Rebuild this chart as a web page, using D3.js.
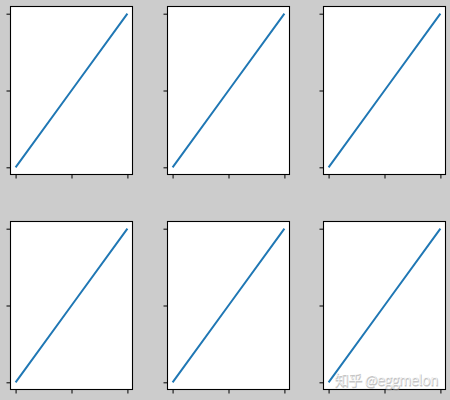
<!DOCTYPE html>
<html><head><meta charset="utf-8">
<script src="https://cdn.jsdelivr.net/npm/d3@7"></script>
<style>body{margin:0;background:#cccccc;}svg{display:block;}</style>
</head><body>
<script>
// Data
const xValues = [0, 1, 2];
const yValues = [0, 1, 2];
const xTicks = [0, 1, 2];
const yTicks = [0, 1, 2];
const panels = [0, 1, 2, 3, 4, 5];
const watermark = "知乎 @eggmelon";

const W = 450, H = 400;
const colX = [10, 167, 323], rowY = [6, 221];
const pw = 123, ph = 169;

const svg = d3.select("body").append("svg").attr("width", W).attr("height", H);
svg.append("rect").attr("width", W).attr("height", H).attr("fill", "#cccccc");

panels.forEach(i => {
  const x0 = colX[i % 3], y0 = rowY[Math.floor(i / 3)];
  const g = svg.append("g").attr("transform", `translate(${x0},${y0})`);
  const x = d3.scaleLinear().domain([-0.1, 2.1]).range([0, pw]);
  const y = d3.scaleLinear().domain([-0.1, 2.1]).range([ph, 0]);
  g.append("rect").attr("width", pw).attr("height", ph).attr("fill", "#fff");
  g.append("path").datum(xValues.map((v, k) => [v, yValues[k]]))
    .attr("d", d3.line().x(d => x(d[0])).y(d => y(d[1])))
    .attr("fill", "none").attr("stroke", "#1f77b4").attr("stroke-width", 2);
  const ax = g.append("g").attr("transform", `translate(0,${ph})`)
    .call(d3.axisBottom(x).tickValues(xTicks).tickSize(3.5).tickFormat(""));
  const ay = g.append("g").call(d3.axisLeft(y).tickValues(yTicks).tickSize(3.5).tickFormat(""));
  [ax, ay].forEach(a => { a.select(".domain").remove(); a.selectAll("line").attr("stroke", "#000").attr("stroke-width", 1); });
  g.append("rect").attr("x", 0.5).attr("y", 0.5).attr("width", pw - 1).attr("height", ph - 1)
    .attr("fill", "none").attr("stroke", "#000").attr("stroke-width", 1.1);
});

const wm = svg.append("g").attr("font-family", "Noto Sans CJK SC, sans-serif").attr("font-size", 13.5).attr("font-weight", 300);
wm.append("text").attr("x", 335.5).attr("y", 385.5).text(watermark)
  .attr("fill", "none").attr("stroke", "#999").attr("stroke-width", 1).attr("opacity", 0.55);
wm.append("text").attr("x", 335).attr("y", 385).text(watermark).attr("fill", "#ffffff").attr("opacity", 0.95);
</script>
</body></html>
